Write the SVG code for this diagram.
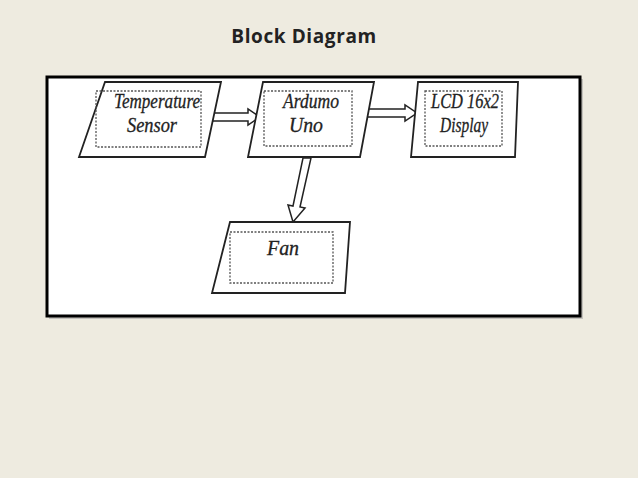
<svg xmlns="http://www.w3.org/2000/svg" width="638" height="478" viewBox="0 0 638 478">
<style>
.box{fill:#fff;stroke:#222;stroke-width:1.8}
.in{fill:none;stroke:#555;stroke-width:1.3;stroke-dasharray:2 1.5}
.t{font-family:"Liberation Serif",serif;font-style:italic;font-size:20px;fill:#222;text-anchor:middle;stroke:#222;stroke-width:0.3}
.ar{fill:#fff;stroke:#222;stroke-width:1.5}
</style>
<rect width="638" height="478" fill="#EEEBE0"/>
<text x="304" y="43" font-family="Open Sans, sans-serif" font-weight="bold" font-size="19" fill="#222" text-anchor="middle" letter-spacing="0.6">Block Diagram</text>
<rect x="49" y="79" width="534" height="240" fill="#999" opacity="0.5"/>
<rect x="47" y="77" width="533" height="239" fill="#fff" stroke="#000" stroke-width="3"/>
<g id="connectors">
<polygon class="ar" points="210,113 248,113 248,109 260,117 248,125 248,121 210,121"/>
<polygon class="ar" points="367,109 405,109 405,105 417,113 405,121 405,117 367,117"/>
<polygon class="ar" points="303,158 311,158 300,207 305,208 293,222 288,205 293,206"/>
</g>
<g id="temp">
<polygon class="box" points="105,82 221,82 205,157 79,157"/>
<rect class="in" x="96" y="91" width="105" height="56"/>
<text class="t" x="157" y="108" textLength="86" lengthAdjust="spacingAndGlyphs">Temperature</text>
<text class="t" x="152" y="132" textLength="50" lengthAdjust="spacingAndGlyphs">Sensor</text>
</g>
<g id="arduino">
<polygon class="box" points="263,82 374,82 360,157 248,157"/>
<rect class="in" x="264" y="91" width="88" height="55"/>
<text class="t" x="311" y="108" textLength="56" lengthAdjust="spacingAndGlyphs">Ardumo</text>
<text class="t" x="306" y="132" textLength="34" lengthAdjust="spacingAndGlyphs">Uno</text>
</g>
<g id="lcd">
<polygon class="box" points="418,82 518,82 515,157 411,157"/>
<rect class="in" x="425" y="91" width="77" height="55"/>
<text class="t" x="465" y="108" textLength="68" lengthAdjust="spacingAndGlyphs">LCD 16x2</text>
<text class="t" x="464" y="132" textLength="48" lengthAdjust="spacingAndGlyphs">Display</text>
</g>
<g id="fan">
<polygon class="box" points="230,222 350,222 345,293 212,293"/>
<rect class="in" x="230" y="232" width="103" height="51"/>
<text class="t" x="283" y="255" font-size="25" stroke-width="0.6" textLength="32" lengthAdjust="spacingAndGlyphs">Fan</text>
</g>
</svg>
